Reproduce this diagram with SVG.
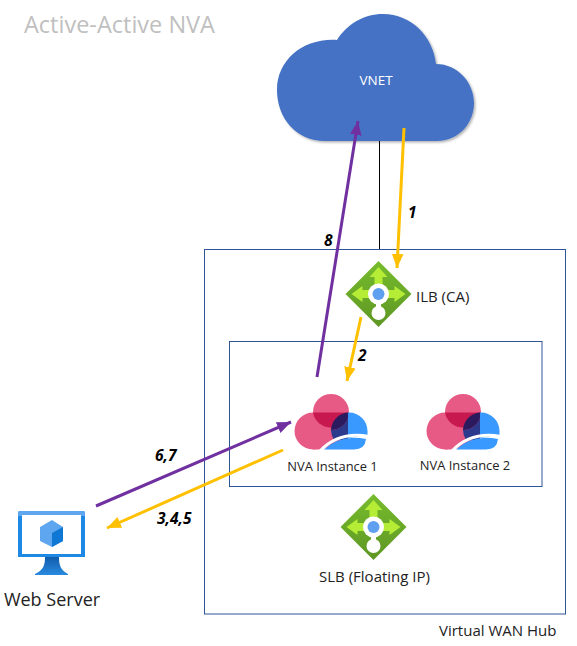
<svg xmlns="http://www.w3.org/2000/svg" width="577" height="646" viewBox="0 0 577 646">
<style>
text{font-family:"Open Sans","Noto Sans","Liberation Sans",sans-serif;fill:#222}
.box{fill:none;stroke:#2f5597;stroke-width:1}
.num{font-size:15.500px;font-weight:700;font-style:italic;fill:#000}
.lab{font-size:12.900px}
.lab2{font-size:15px}
.y{stroke:#ffc000;stroke-width:3;fill:none}
.p{stroke:#7030a0;stroke-width:3;fill:none}
</style>
<defs>
<marker id="ay" markerUnits="userSpaceOnUse" markerWidth="14" markerHeight="14" refX="12" refY="5" orient="auto" viewBox="0 0 12 10"><path d="M0 0L12 5L0 10z" fill="#ffc000"/></marker>
<marker id="ap" markerUnits="userSpaceOnUse" markerWidth="14" markerHeight="14" refX="12" refY="5" orient="auto" viewBox="0 0 12 10"><path d="M0 0L12 5L0 10z" fill="#7030a0"/></marker>
<linearGradient id="g" x1="0" y1="0" x2="0" y2="1"><stop offset="0" stop-color="#76bc2d"/><stop offset="1" stop-color="#5e9624"/></linearGradient>
<linearGradient id="st" x1="0" y1="0" x2="0" y2="1"><stop offset="0" stop-color="#0f5cab"/><stop offset="1" stop-color="#2a8be0"/></linearGradient>
<filter id="sh" x="-5%" y="-5%" width="112%" height="112%"><feDropShadow dx="1.500" dy="1.500" stdDeviation="1.200" flood-color="#000" flood-opacity=".3"/></filter>
<g id="lb">
<path d="M0-33L33 0L0 33L-33 0z" fill="url(#g)"/>
<path d="M0-27L9-17H4V-6H-4V-17H-9zM-27 0L-16-8V-4H-6V4H-16V8zM27 0L16-8V-4H6V4H16V8z" fill="#b4ec36"/>
<rect x="-2.500" y="6" width="5" height="12" fill="#fff"/>
<circle r="10.500" fill="#fff"/><circle r="6" fill="#5ea0ef"/>
<circle cy="19" r="7" fill="#fff"/>
</g>
<g id="nva">
<circle cx="19" cy="37" r="18.500" fill="#e75a85"/>
<path d="M19 18.500H54V46L28 55.500H19z" fill="#e75a85"/>
<circle cx="37" cy="18" r="18" fill="#e75a85"/>
<path d="M19 18.500H54.500A18 18 0 0 1 19 18.500z" fill="#c7194f"/>
<path d="M54 18.500H55A18.500 18.500 0 0 1 73.500 37V41L54 44z" fill="#3a99ff"/>
<path d="M54 24A18 18 0 0 1 37 36Q37 41 40 46L54 46z" fill="#2b3a8c"/>
<path d="M54 18.500A18.500 18.500 0 0 0 37 36A18 18 0 0 0 54 24z" fill="#2b1a5e"/>
<path d="M26 57Q45 37 75 42.500" fill="none" stroke="#fff" stroke-width="3"/>
<path d="M30 55.500Q47 40 72 45Q71 55.500 60 55.500z" fill="#3a99ff"/>
</g>
</defs>
<text x="24" y="33" style="font-size:23.500px;fill:#bfbfbf">Active-Active NVA</text>
<g id="hub"><rect class="box" x="204.500" y="249.500" width="361" height="364.500"/><text x="439" y="636" style="font-size:15px">Virtual WAN Hub</text></g>
<g id="nva-box"><rect class="box" x="229.500" y="341.500" width="312.500" height="145"/></g>
<g id="vnet">
<path d="M325 141C296 141 277 118 277 90C277 60 303 38 337 40C347 24 364 14 383 14C411 14 433 36 436 64C458 64 474 83 474 103C474 124 458 141 437 141z" fill="#4472c4" filter="url(#sh)"/>
<text x="376" y="85" text-anchor="middle" style="font-size:13.500px;fill:#fff">VNET</text>
</g>
<g id="ilb"><use href="#lb" x="378.500" y="294"/><text class="lab2" x="416" y="302">ILB (CA)</text></g>
<g id="slb"><use href="#lb" x="373.500" y="527"/><text class="lab2" x="374.500" y="582" text-anchor="middle">SLB (Floating IP)</text></g>
<g id="nva1"><use href="#nva" x="294" y="394"/><text class="lab" x="332.500" y="471" text-anchor="middle">NVA Instance 1</text></g>
<g id="nva2"><use href="#nva" x="426" y="394"/><text class="lab" x="465" y="470" text-anchor="middle">NVA Instance 2</text></g>
<g id="web">
<path d="M18 513a2 2 0 0 1 2-2H83a2 2 0 0 1 2 2V557H18z" fill="#1e88e5"/>
<path d="M18 513a2 2 0 0 1 2-2H83a2 2 0 0 1 2 2V516H18z" fill="#5ea7f0"/>
<rect x="22" y="515" width="59" height="39" fill="#fff"/>
<path d="M45 557H59C59 566 61 570 68 574V575H35V574C43 570 45 566 45 557z" fill="url(#st)"/>
<path d="M52 520L63 527V541L52 547L40 541V527z" fill="#5ea7f0"/>
<path d="M52 533L63 527V541L52 547z" fill="#0f78d4"/>
<text x="52" y="606" text-anchor="middle" style="font-size:18px">Web Server</text>
</g>
<g id="connectors">
<line x1="379.500" y1="141" x2="379.500" y2="249" stroke="#000" stroke-width="1"/>
<line class="y" x1="404" y1="128" x2="397" y2="268" marker-end="url(#ay)"/>
<line class="y" x1="361" y1="317" x2="347" y2="381" marker-end="url(#ay)"/>
<line class="p" x1="317" y1="377" x2="358" y2="121" marker-end="url(#ap)"/>
<line class="p" x1="96" y1="506" x2="291" y2="422" marker-end="url(#ap)"/>
<line class="y" x1="283" y1="450" x2="107" y2="528" marker-end="url(#ay)"/>
</g>
<text class="num" x="408" y="218">1</text>
<text class="num" x="358" y="361">2</text>
<text class="num" x="324" y="246">8</text>
<text class="num" x="155" y="461">6,7</text>
<text class="num" x="157" y="524">3,4,5</text>
</svg>
